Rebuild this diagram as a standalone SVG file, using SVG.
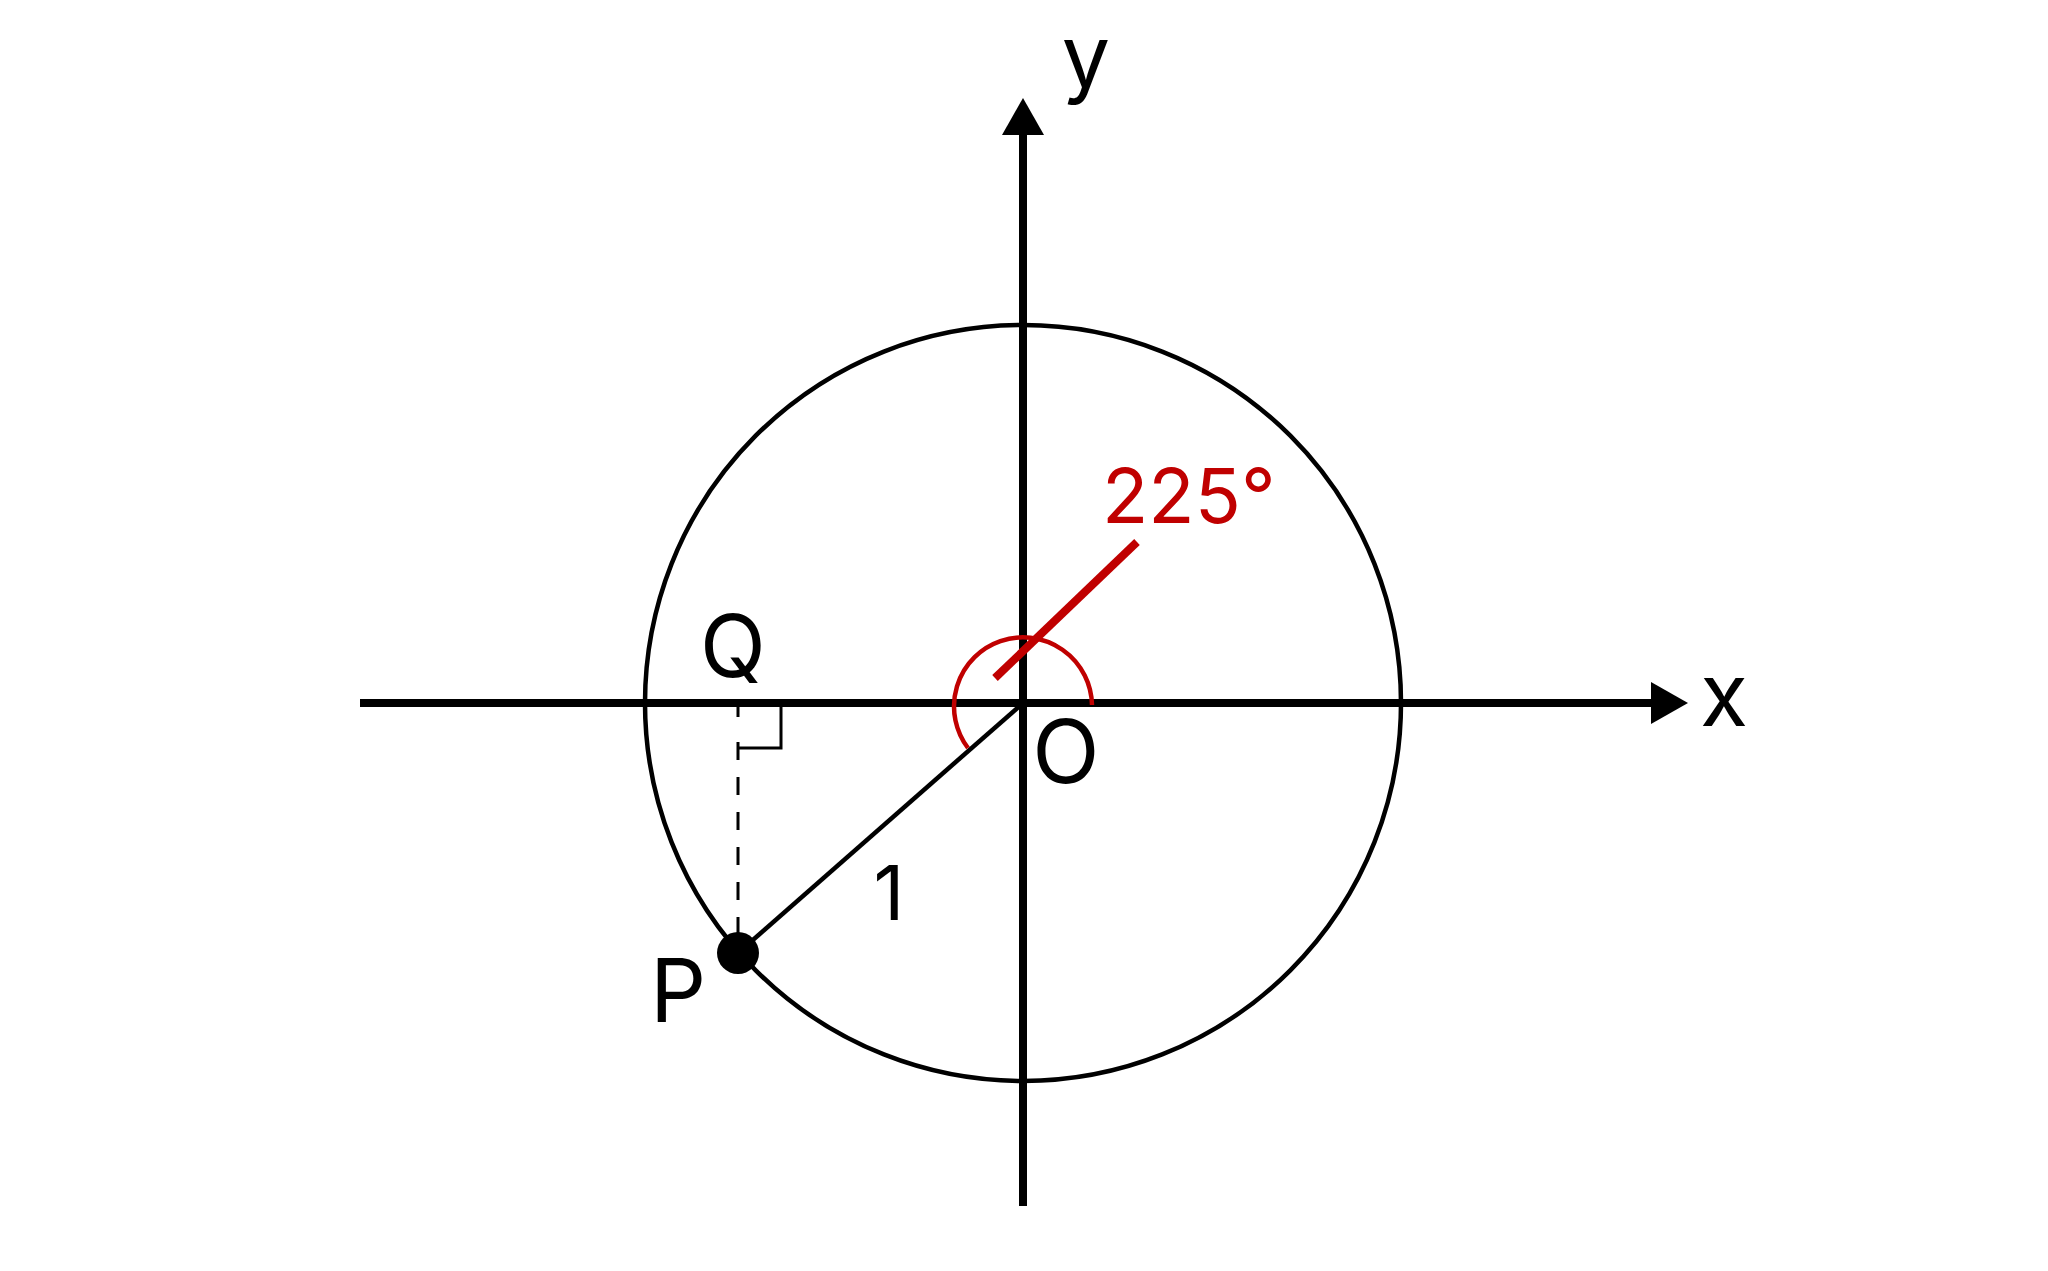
<svg xmlns="http://www.w3.org/2000/svg" width="2048" height="1271" viewBox="0 0 2048 1271">
<style>
.lbl{font-family:Inter,"Noto Sans","Liberation Sans",sans-serif;fill:#000;text-anchor:middle}
.red{fill:#c00000}
.thin{fill:none;stroke:#000;stroke-width:3}
</style>
<rect width="2048" height="1271" fill="#fff"/>
<g id="circle"><circle cx="1023" cy="703" r="378" fill="none" stroke="#000" stroke-width="4.5"/></g>
<g id="connectors">
<line x1="360" y1="703" x2="1655" y2="703" stroke="#000" stroke-width="8"/>
<polygon points="1651,682 1688,703 1651,724" fill="#000"/>
<line x1="1023" y1="1206" x2="1023" y2="132" stroke="#000" stroke-width="8"/>
<polygon points="1002,135 1023,98 1044,135" fill="#000"/>
<line x1="1023" y1="703" x2="738" y2="953" stroke="#000" stroke-width="4.5"/>
<line x1="738" y1="707" x2="738" y2="940" stroke="#000" stroke-width="3" stroke-dasharray="10 25 18 17 18 17 18 17 18 17 18 17 18 17 18 17"/>
<polyline class="thin" points="738,748 781,748 781,707"/>
<path d="M1092,705 A69,69 0 1 0 968,748" fill="none" stroke="#c00000" stroke-width="4.5"/>
<line x1="995" y1="678" x2="1137" y2="542" stroke="#c00000" stroke-width="8"/>
</g>
<g id="P"><circle cx="738" cy="953" r="21" fill="#000"/><text class="lbl" x="678" y="1022" font-size="88">P</text></g>
<g id="Q"><text class="lbl" x="733" y="677" font-size="86">Q</text></g>
<g id="O"><text class="lbl" x="1066" y="783" font-size="88">O</text></g>
<g id="xlabel"><text class="lbl" x="1724" y="726" font-size="88">x</text></g>
<g id="ylabel"><text class="lbl" x="1086" y="87" font-size="86">y</text></g>
<g id="one"><text class="lbl" x="889" y="920" font-size="76">1</text></g>
<g id="angle"><text class="lbl red" x="1102" y="523" font-size="76" style="text-anchor:start">225°</text></g>
</svg>
